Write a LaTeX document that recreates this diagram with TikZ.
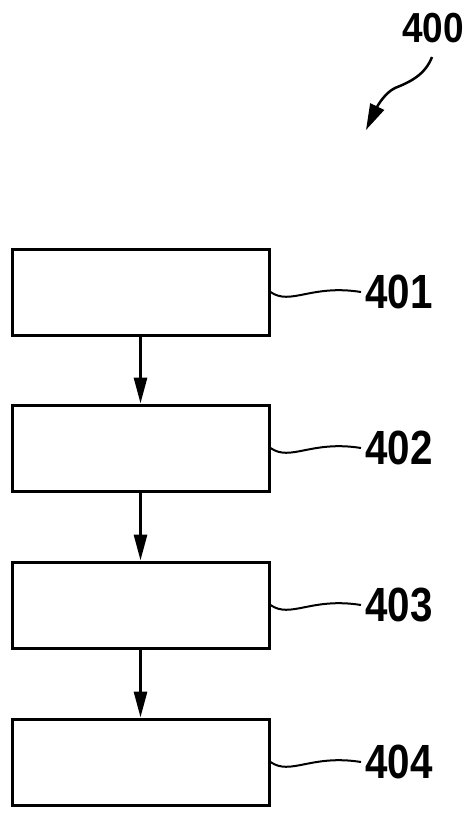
\documentclass[tikz,border=0pt]{standalone}
\usepackage{fontspec}
\setmainfont{Liberation Sans}
\usetikzlibrary{arrows.meta}

\begin{document}
\begin{tikzpicture}[x=1pt,y=-1pt]

      \useasboundingbox (0,0) rectangle (474,818);

      \begin{scope}[every node/.style={draw, line width=3pt, minimum width=257pt, minimum height=86pt, inner sep=0pt}]
        \node (1) at (140.5,292) {};
        \node (2) at (140.5,448) {};
        \node (3) at (140.5,605) {};
        \node (4) at (140.5,762) {};
      \end{scope}

      \begin{scope}[every node/.style={anchor=west, inner sep=4pt, font=\fontsize{48}{48}\selectfont\bfseries}]
        \node (l1) at (361,292) {\scalebox{0.84}[1]{401}};
        \node (l2) at (361,448) {\scalebox{0.84}[1]{402}};
        \node (l3) at (361,605) {\scalebox{0.84}[1]{403}};
        \node (l4) at (361,762) {\scalebox{0.84}[1]{404}};
      \end{scope}

      \node[font=\fontsize{42}{42}\selectfont\bfseries, inner sep=0pt] (l0) at (433,28) {\scalebox{0.88}[1]{400}};
      \coordinate (a0) at (432,57);
      \coordinate (t0) at (366,130);

      \begin{scope}[line width=3pt, -{Triangle[length=26pt,width=13pt]}]
        \draw (1) -- (2);
        \draw (2) -- (3);
        \draw (3) -- (4);
      \end{scope}

      \begin{scope}[line width=2pt]
        \draw (1.east) .. controls +(20,14) and +(-50,-8) .. (l1.west);
        \draw (2.east) .. controls +(20,14) and +(-50,-8) .. (l2.west);
        \draw (3.east) .. controls +(20,14) and +(-50,-8) .. (l3.west);
        \draw (4.east) .. controls +(20,14) and +(-50,-8) .. (l4.west);
        \draw[line width=2.5pt, -{Triangle[length=26pt,width=15pt]}] (a0) .. controls (425,75) and (410,82) .. (395,88) .. controls (385,93) and (378,105) .. (t0);
      \end{scope}

    \end{tikzpicture}
\end{document}
